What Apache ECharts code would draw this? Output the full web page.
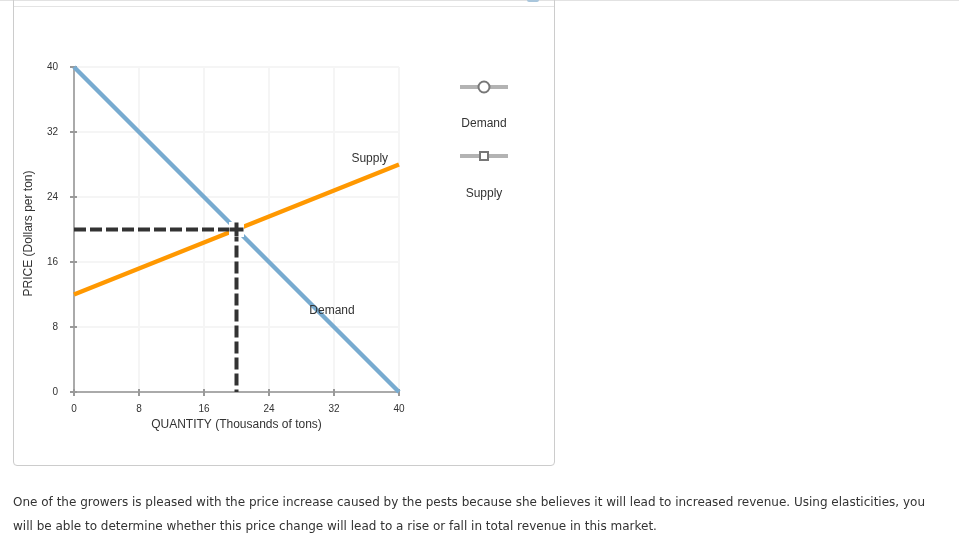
<!DOCTYPE html>
<html>
<head>
<meta charset="utf-8">
<title>Supply and demand</title>
<script src="https://cdn.jsdelivr.net/npm/echarts@6/dist/echarts.min.js"></script>
<style>
  html, body { margin: 0; padding: 0; background: #fff; }
  body { width: 959px; height: 548px; overflow: hidden; position: relative; }
  #topline { position: absolute; left: 0; top: 0; width: 959px; height: 1px; background: #e2e2e2; }
  #card { position: absolute; left: 13px; top: -10px; width: 540px; height: 474px; border: 1px solid #ccc; border-radius: 4px; box-sizing: content-box; }
  #cardline { position: absolute; left: 14px; top: 6px; width: 540px; height: 1px; background: #e4e4e4; }
  #mark { position: absolute; left: 527px; top: 0; width: 12px; height: 2px; background: #a9c6dc; border-radius: 0 0 6px 6px; }
  #main { position: absolute; left: 0; top: 0; width: 959px; height: 548px; }
  #para { position: absolute; left: 13px; top: 490px; width: 930px; font: 12px/24px "DejaVu Sans", sans-serif; color: #333; white-space: nowrap; }
</style>
</head>
<body>
<div id="topline"></div>
<div id="card"></div>
<div id="cardline"></div>
<div id="mark"></div>
<div id="main"></div>
<div id="para">One of the growers is pleased with the price increase caused by the pests because she believes it will lead to increased revenue. Using elasticities, you<br>will be able to determine whether this price change will lead to a rise or fall in total revenue in this market.</div>
<script>
var demand = [[0, 40], [40, 0]]
var supply = [[0, 12], [40, 28]]
var equilibrium = [20, 20]
var dropH = [[0, 20], [20, 20]]
var dropV = [[20, 20], [20, 0]]
var curveLabels = [
  { name: 'Supply', value: [36.4, 28.7] },
  { name: 'Demand', value: [31.75, 10] }
]
var xTitle = 'QUANTITY (Thousands of tons)'
var yTitle = 'PRICE (Dollars per ton)'
var legendNames = ['Demand', 'Supply']

var FONT = 'Arial, "Liberation Sans", sans-serif'
var PLUS = 'path://M-2,-7 L2,-7 L2,-2 L7,-2 L7,2 L2,2 L2,7 L-2,7 L-2,2 L-7,2 L-7,-2 L-2,-2 Z'

function valueAxis(extra) {
  return Object.assign({
    type: 'value', min: 0, max: 40, interval: 8,
    axisLine: { show: true, onZero: false, lineStyle: { color: '#aaa', width: 2 } },
    axisTick: { show: true, length: 4, lineStyle: { color: '#999', width: 2 } },
    splitLine: { show: true, lineStyle: { color: '#f5f5f5', width: 2 } },
    nameLocation: 'middle'
  }, extra)
}

// second pair of axes only draws the inner half of the ticks
function innerAxis(position) {
  return {
    type: 'value', min: 0, max: 40, interval: 8, position: position,
    axisLine: { show: false },
    axisTick: { show: true, inside: true, length: 3, lineStyle: { color: '#999', width: 2 } },
    axisLabel: { show: false },
    splitLine: { show: false }
  }
}

function legendKey(y, square) {
  var cx = 484
  var marker = square
    ? { type: 'rect', shape: { x: cx - 4, y: y - 4, width: 8, height: 8 }, style: { fill: '#fff', stroke: '#777', lineWidth: 2 } }
    : { type: 'circle', shape: { cx: cx, cy: y, r: 5.5 }, style: { fill: '#fff', stroke: '#777', lineWidth: 2 } }
  return [
    { type: 'line', shape: { x1: 460, y1: y, x2: 508, y2: y }, style: { stroke: '#b3b3b3', lineWidth: 4 } },
    marker
  ]
}

function legendText(name, y) {
  return { type: 'text', x: 484, y: y, style: { text: name, font: '12px ' + FONT, fill: '#333', textAlign: 'center', textVerticalAlign: 'middle' } }
}

var myChart = echarts.init(document.getElementById('main'))
myChart.setOption({
  animation: false,
  grid: { left: 74, top: 67, width: 325, height: 325, containLabel: false },
  xAxis: [
    valueAxis({
      name: xTitle, nameGap: 27,
      nameTextStyle: { fontFamily: FONT, fontSize: 12, color: '#333' },
      axisLabel: { fontFamily: FONT, fontSize: 10, color: '#333', margin: 12 }
    }),
    innerAxis('bottom')
  ],
  yAxis: [
    valueAxis({
      name: yTitle, nameGap: 39,
      nameTextStyle: { fontFamily: FONT, fontSize: 12, color: '#333', padding: [0, 8, 0, 0] },
      axisLabel: { fontFamily: FONT, fontSize: 10, color: '#333', margin: 16, padding: [2, 0, 0, 0] }
    }),
    innerAxis('left')
  ],
  graphic: legendKey(87, false)
    .concat(legendKey(156, true))
    .concat([legendText(legendNames[0], 124), legendText(legendNames[1], 194)]),
  series: [
    { name: 'Supply', type: 'line', data: supply, symbol: 'none', z: 3, lineStyle: { color: '#ff9800', width: 4.5 } },
    { name: 'Demand', type: 'line', data: demand, symbol: 'none', z: 3, lineStyle: { color: '#78abd0', width: 4.5 } },
    { type: 'line', data: dropH, symbol: 'none', z: 4, lineStyle: { color: '#333', width: 4, type: [12, 4] } },
    { type: 'line', data: dropV, symbol: 'none', z: 4, lineStyle: { color: '#333', width: 4, type: [12, 4] } },
    { type: 'scatter', data: [equilibrium], symbol: 'rect', symbolSize: 15, z: 5, itemStyle: { color: '#fff', opacity: 1 } },
    { type: 'scatter', data: [equilibrium], symbol: PLUS, symbolSize: 14, z: 6, itemStyle: { color: '#333', opacity: 1 } },
    {
      type: 'scatter', data: curveLabels, symbolSize: 0, z: 7,
      itemStyle: { opacity: 1 },
      label: { show: true, position: 'inside', formatter: '{b}', fontFamily: FONT, fontSize: 12, color: '#333' }
    }
  ]
})
</script>
</body>
</html>
